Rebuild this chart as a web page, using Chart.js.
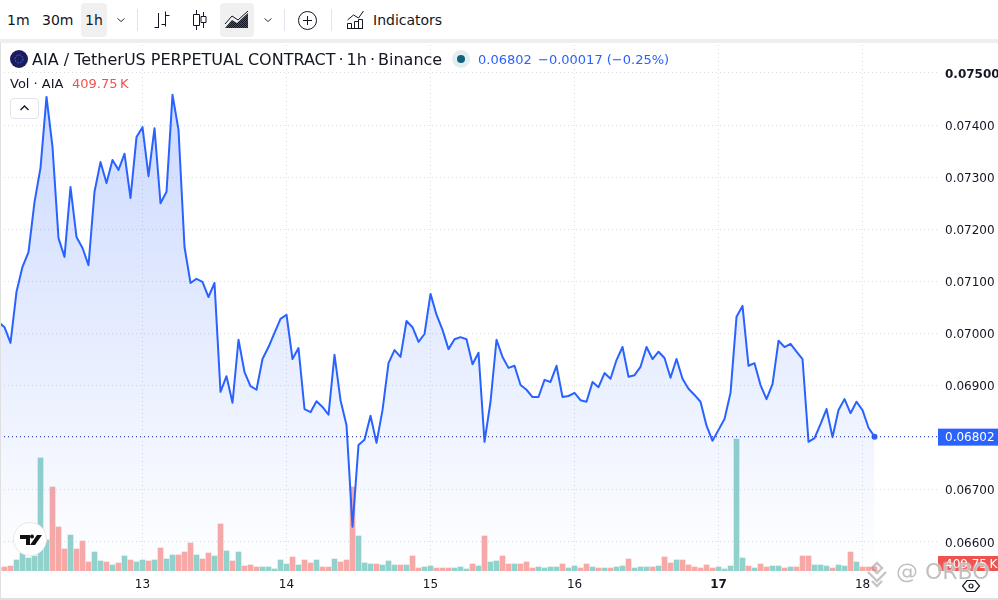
<!DOCTYPE html>
<html>
<head>
<meta charset="utf-8">
<script src="https://cdn.jsdelivr.net/npm/chart.js@4/dist/chart.umd.min.js"></script>
<style>
    html, body { margin: 0; padding: 0; background: #fff; overflow: hidden; }
    body { width: 998px; height: 600px; position: relative; font-family: "DejaVu Sans", sans-serif; color: #131722; }
    canvas { position: absolute; left: 0; top: 0; }
    .abs { position: absolute; white-space: nowrap; }
    .frame { left: 0; top: 0; width: 998px; height: 600px; box-sizing: border-box; border-left: 1px solid #e0e0e0; border-bottom: 2px solid #e0e0e0; pointer-events: none; }
    .toolbar { left: 0; top: 0; width: 998px; height: 39px; background: #fff; border-bottom: 4px solid #eeeeee; }
    .hl { background: #f0f0f0; border-radius: 4px; }
    .sep { width: 1px; height: 22px; top: 9px; background: #e0e3eb; }
    .tb { font-size: 14px; top: 12px; line-height: 16px; }
    .dot { margin: 0 3px; }
    svg { position: absolute; overflow: visible; }
    #water { left: 896px; top: 559px; font-size: 22px; color: rgba(140,140,140,.55); text-shadow: 0 0 2px #fff, 0 0 2px #fff; }
</style>
</head>
<body>
<canvas id="chart" width="998" height="600"></canvas>

<div class="abs frame"></div>
<div class="abs toolbar"></div>
<div class="abs hl" style="left:81px;top:3px;width:26px;height:34px"></div>
<div class="abs hl" style="left:220px;top:3px;width:34px;height:34px"></div>
<div class="abs tb" style="left:7px">1m</div>
<div class="abs tb" style="left:42px">30m</div>
<div class="abs tb" style="left:85px">1h</div>
<div class="abs tb" style="left:373px">Indicators</div>
<div class="abs sep" style="left:137px"></div>
<div class="abs sep" style="left:284px"></div>
<div class="abs sep" style="left:331px"></div>
<svg style="left:0;top:0" width="998" height="40" fill="none" stroke="#131722" stroke-width="1">
    <defs>
        <pattern id="hatch" width="2" height="2" patternUnits="userSpaceOnUse">
            <rect width="1" height="1" fill="#222"/><rect x="1" y="1" width="1" height="1" fill="#222"/>
        </pattern>
    </defs>
    <path d="M117.5 18.5l3.5 3 3.5-3M264.5 18.5l3.5 3 3.5-3" stroke="#333"/>
    <path d="M154.5 27.5h4v-14M158.5 13v15M165.5 11.5v15M165.5 15.5h4M161.5 24.5h4"/>
    <path d="M196.5 10v4M196.5 25v5M193.5 14.5h6v11h-6zM203.5 12v4M203.5 23v5M201 16.5h5v6h-5z"/>
    <path d="M225 28l7-8 5 3 11-10v15z" fill="url(#hatch)" stroke="none"/>
    <path d="M225 24l7-8 6 4 10-9" stroke="#131722"/>
    <circle cx="307.5" cy="20.5" r="9"/><path d="M303 20.5h9M307.5 16v9"/>
    <path d="M347.5 20l6-5 5 3 5-7M347.5 28.5v-5h4v5zM354.5 28.5v-7h4v7zM358.5 28.5v-9h4v9zM347 28.5h16"/>
</svg>

<svg style="left:0;top:0" width="998" height="120">
    <circle cx="19" cy="59" r="9" fill="#1b1b5e"/>
    <circle cx="19" cy="59" r="4" fill="none" stroke="#3f63c9" stroke-width="1" stroke-dasharray="2 1"/>
    <circle cx="461" cy="59" r="9" fill="#e3eef1"/>
    <circle cx="461" cy="59" r="4" fill="#14617c"/>
</svg>
<div class="abs" style="left:32px;top:50px;font-size:16px;line-height:19px">AIA / TetherUS PERPETUAL CONTRACT<span class="dot">·</span>1h<span class="dot">·</span>Binance</div>
<div class="abs" style="left:478px;top:51px;font-size:13px;line-height:17px;color:#2962ff">0.06802</div>
<div class="abs" style="left:538px;top:51px;font-size:13px;line-height:17px;color:#2962ff">−0.00017 (−0.25%)</div>
<div class="abs" style="left:10px;top:75px;font-size:13px;line-height:17px">Vol · AIA</div>
<div class="abs" style="left:72px;top:75px;font-size:13px;line-height:17px;color:#ef5350">409.75&#8201;K</div>
<div class="abs" style="left:10px;top:98px;width:27px;height:19px;background:#fff;border:1px solid #e0e3eb;border-radius:4px"></div>
<svg style="left:0;top:90px" width="60" height="30" fill="none" stroke="#131722" stroke-width="1.4"><path d="M20.5 20l4-4 4 4"/></svg>

<div class="abs" style="left:13px;top:522px;width:34px;height:34px;border-radius:50%;background:#fff;border:1px solid #e8e8e8;box-sizing:border-box"></div>
<svg style="left:0;top:520px" width="60" height="40" fill="#111">
    <path d="M20 15h10v10h-4v-6h-6zM37 15h5l-7 10h-5z"/><circle cx="32" cy="16.5" r="2"/>
</svg>

<svg style="left:865px;top:562px" width="26" height="26" fill="none" stroke="rgba(150,150,150,.55)" stroke-width="2.4">
    <path d="M12 1l5 5-5 5-5-5zM3 10l4 4 5 5 5-5 4-4M7 19l5 5 5-5"/>
</svg>
<div class="abs" id="water">@ ORBO</div>
<svg style="left:962px;top:576px" width="20" height="20" fill="none" stroke="#131722" stroke-width="1.2">
    <path d="M5 4.5h8l4.5 5.5-4.5 5.5h-8l-4.5-5.5z"/><circle cx="9" cy="10" r="2"/>
</svg>

<script>
// hourly closes, one per bar, first one sits just off the left edge
const prices = [
    0.07022, 0.07012, 0.06982, 0.07080, 0.07128, 0.07156, 0.07252, 0.07318, 0.07454, 0.07358,
    0.07183, 0.07147, 0.07281, 0.07185, 0.07164, 0.07131, 0.07272, 0.07329, 0.07289, 0.07333,
    0.07314, 0.07345, 0.07260, 0.07377, 0.07396, 0.07302, 0.07394, 0.07250, 0.07272, 0.07458,
    0.07391, 0.07166, 0.07097, 0.07105, 0.07099, 0.07070, 0.07097, 0.06888, 0.06918, 0.06867,
    0.06988, 0.06926, 0.06899, 0.06892, 0.06951, 0.06974, 0.07001, 0.07028, 0.07036, 0.06951,
    0.06972, 0.06855, 0.06849, 0.06870, 0.06859, 0.06844, 0.06959, 0.06872, 0.06824, 0.06629,
    0.06786, 0.06796, 0.06842, 0.06790, 0.06853, 0.06943, 0.06968, 0.06955, 0.07024, 0.07012,
    0.06984, 0.06999, 0.07076, 0.07036, 0.07007, 0.06970, 0.06989, 0.06993, 0.06989, 0.06941,
    0.06963, 0.06792, 0.06869, 0.06988, 0.06955, 0.06934, 0.06938, 0.06901, 0.06892, 0.06878,
    0.06878, 0.06911, 0.06907, 0.06938, 0.06878, 0.06880, 0.06886, 0.06872, 0.06869, 0.06907,
    0.06897, 0.06924, 0.06913, 0.06949, 0.06974, 0.06917, 0.06920, 0.06936, 0.06974, 0.06951,
    0.06965, 0.06953, 0.06915, 0.06951, 0.06913, 0.06894, 0.06882, 0.06869, 0.06823, 0.06794,
    0.06815, 0.06836, 0.06886, 0.07032, 0.07053, 0.06938, 0.06943, 0.06901, 0.06874, 0.06903,
    0.06986, 0.06974, 0.06980, 0.06965, 0.06951, 0.06792, 0.06799, 0.06826, 0.06855, 0.06801,
    0.06853, 0.06874, 0.06847, 0.06869, 0.06853, 0.06819, 0.06802,
];
// volume in thousands, same order as prices
const volumes = [
    300, 400, 500, 1100, 1800, 1300, 1500, 11300, 3100, 8400,
    4400, 2200, 3600, 2200, 3000, 900, 1900, 1000, 900, 600,
    800, 1500, 1100, 900, 1100, 1000, 1100, 2300, 1200, 1600,
    1600, 1900, 2800, 1600, 1200, 1800, 1500, 4700, 2000, 1000,
    1900, 500, 600, 400, 400, 400, 200, 1100, 700, 1400,
    600, 1100, 800, 1100, 400, 400, 1200, 900, 1100, 8400,
    3500, 800, 700, 700, 600, 1000, 600, 600, 600, 1500,
    300, 400, 500, 300, 300, 300, 300, 400, 200, 700,
    500, 3500, 900, 1000, 1500, 700, 700, 700, 900, 300,
    400, 300, 400, 400, 700, 300, 500, 300, 700, 400,
    300, 300, 300, 400, 500, 1200, 300, 400, 400, 400,
    500, 1400, 800, 1100, 1100, 600, 400, 300, 600, 300,
    400, 200, 500, 13200, 1300, 500, 300, 700, 400, 500,
    500, 300, 400, 400, 1500, 1500, 600, 600, 500, 300,
    600, 500, 1900, 900, 400, 400, 409.75,
];
// 1 = green volume bar, 0 = red
const volumeUp = [
    0, 0, 0, 1, 1, 1, 1, 1, 1, 0,
    0, 0, 1, 0, 0, 0, 1, 1, 0, 1,
    0, 1, 0, 1, 1, 0, 1, 0, 1, 1,
    0, 0, 0, 1, 0, 0, 1, 0, 1, 0,
    1, 0, 0, 0, 1, 1, 1, 1, 1, 0,
    1, 0, 0, 1, 0, 0, 1, 0, 0, 0,
    1, 1, 1, 0, 1, 1, 1, 0, 1, 0,
    0, 1, 1, 0, 0, 0, 1, 1, 1, 0,
    1, 0, 1, 1, 0, 0, 1, 0, 0, 0,
    1, 1, 1, 1, 0, 1, 1, 0, 0, 1,
    0, 1, 0, 1, 1, 0, 1, 1, 1, 0,
    1, 0, 0, 1, 0, 0, 0, 0, 0, 0,
    1, 1, 1, 1, 1, 0, 1, 0, 0, 1,
    1, 0, 1, 0, 0, 0, 1, 1, 1, 0,
    1, 1, 0, 1, 0, 0, 0,
];
const priceTicks = [0.075, 0.074, 0.073, 0.072, 0.071, 0.07, 0.069, 0.068, 0.067, 0.066];
const dayTicks = [24, 48, 72, 96, 120, 144];
const dayLabels = ["13", "14", "15", "16", "17", "18"];
const lastPrice = 0.06802;
const lastVolume = 409.75;

const X_MIN = 0.25;
const X_MAX = 156.58;
const BLUE = "#2962ff";
const GRID = "#d9dce3";

const priceData = prices.map((p, i) => ({x: i, y: p}));
const volumeData = volumes.map((v, i) => ({x: i, y: v}));

const lastLabels = {
    id: "lastLabels",
    afterDraw(chart) {
        const ctx = chart.ctx;
        const right = chart.chartArea.right;
        function box(y0, y1, color, text, font) {
            ctx.fillStyle = color;
            ctx.fillRect(right, y0, 998 - right, y1 - y0);
            ctx.fillStyle = "#fff";
            ctx.font = font;
            ctx.textBaseline = "middle";
            ctx.textAlign = "left";
            ctx.fillText(text, right + 7, (y0 + y1) / 2 + 1);
        }
        const py = chart.scales.y.getPixelForValue(lastPrice);
        const vy = chart.scales.vol.getPixelForValue(0);
        box(py - 8, py + 9, BLUE, lastPrice.toFixed(5), "12px 'DejaVu Sans'");
        box(vy - 15, vy, "#ef5350", lastVolume.toFixed(2) + "\u2009K", "12px 'DejaVu Sans'");
    },
};

new Chart(document.getElementById("chart"), {
    data: {
        datasets: [
            {
                type: "line",
                label: "Last",
                data: [{x: X_MIN, y: lastPrice}, {x: X_MAX, y: lastPrice}],
                yAxisID: "y",
                borderColor: "#2a3fb0",
                borderWidth: 1,
                borderDash: [1, 3],
                pointRadius: 0,
                order: 0,
            },
            {
                type: "line",
                label: "AIA",
                data: priceData,
                yAxisID: "y",
                borderColor: BLUE,
                borderWidth: 2,
                borderJoinStyle: "round",
                tension: 0,
                pointRadius: (c) => (c.dataIndex === prices.length - 1 ? 3 : 0),
                pointBackgroundColor: BLUE,
                pointBorderWidth: 0,
                fill: "start",
                backgroundColor: (c) => {
                    const area = c.chart.chartArea;
                    if (!area) {
                        return "transparent";
                    }
                    const g = c.chart.ctx.createLinearGradient(0, area.top + 50, 0, area.bottom);
                    g.addColorStop(0, "rgba(41, 98, 255, 0.24)");
                    g.addColorStop(1, "rgba(41, 98, 255, 0)");
                    return g;
                },
                order: 1,
            },
            {
                type: "bar",
                label: "Vol",
                data: volumeData,
                yAxisID: "vol",
                barThickness: 5,
                backgroundColor: volumeUp.map((u) => (u ? "#92d2cc" : "#f7a9a7")),
                order: 2,
            },
        ],
    },
    options: {
        responsive: false,
        animation: false,
        events: [],
        layout: {autoPadding: false, padding: {top: 41, left: 0, right: 0, bottom: 0}},
        plugins: {legend: {display: false}, tooltip: {enabled: false}},
        scales: {
            x: {
                type: "linear",
                offset: false,
                min: X_MIN,
                max: X_MAX,
                afterBuildTicks: (scale) => {
                    scale.ticks = dayTicks.map((t) => ({value: t}));
                },
                afterFit: (scale) => {
                    scale.height = 29;
                    scale.paddingLeft = 0;
                    scale.paddingRight = 0;
                },
                ticks: {
                    autoSkip: false,
                    maxRotation: 0,
                    padding: 7,
                    color: "#131722",
                    font: (c) => ({family: "DejaVu Sans", size: 12, weight: c.tick && c.tick.value === 120 ? "bold" : "normal"}),
                    callback: (v) => dayLabels[dayTicks.indexOf(v)],
                },
                grid: {color: GRID, drawTicks: false, offset: false},
                border: {display: false, dash: [1, 3]},
            },
            y: {
                position: "right",
                min: 0.065441,
                max: 0.075614,
                afterBuildTicks: (scale) => {
                    scale.ticks = priceTicks.map((t) => ({value: t}));
                },
                afterFit: (scale) => {
                    scale.width = 60;
                    scale.paddingTop = 0;
                    scale.paddingBottom = 0;
                },
                ticks: {
                    padding: 7,
                    labelOffset: 1.5,
                    color: "#131722",
                    font: (c) => ({family: "DejaVu Sans", size: 12, weight: c.tick && c.tick.value === 0.075 ? "bold" : "normal"}),
                    callback: (v) => v.toFixed(5),
                },
                grid: {color: GRID, drawTicks: false},
                border: {display: false, dash: [1, 3]},
            },
            vol: {
                display: false,
                min: 0,
                max: 53000,
            },
        },
    },
    plugins: [lastLabels],
});
</script>
</body>
</html>
